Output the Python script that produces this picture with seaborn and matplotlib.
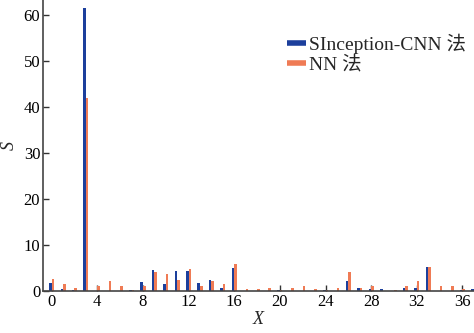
import numpy as np
import pandas as pd
import matplotlib
matplotlib.use("Agg")
import matplotlib.pyplot as plt
import seaborn as sns
from matplotlib.lines import Line2D

# Data
x_vals = list(range(38))
s_sincep = [1.7, 0.4, 0.3, 61.5, 0.1, 0.0, 0.0, 0.2, 1.9, 4.5,
            1.6, 4.4, 4.3, 1.7, 2.5, 0.6, 5.1, 0.0, 0.0, 0.0,
            0.2, 0.0, 0.0, 0.0, 0.2, 0.0, 2.2, 0.6, 0.4, 0.5,
            0.1, 0.6, 0.6, 5.2, 0.1, 0.0, 0.3, 0.4]
s_nn = [2.6, 1.45, 0.65, 42.0, 1.1, 2.2, 1.1, 0.3, 1.2, 4.1,
        3.6, 2.4, 4.8, 1.1, 2.2, 1.5, 5.8, 0.36, 0.5, 0.6,
        0.2, 0.7, 1.0, 0.35, 0.3, 0.6, 4.2, 0.6, 1.2, 0.0,
        0.3, 1.0, 2.2, 5.2, 1.0, 1.0, 0.5, 0.0]
series_names = ["SInception-CNN 法", "NN 法"]
x_ticks = [0, 4, 8, 12, 16, 20, 24, 28, 32, 36]
y_ticks = [0, 10, 20, 30, 40, 50, 60]

colors = ["#1c3f9c", "#ef7b55"]

df = pd.DataFrame({
    "X": x_vals * 2,
    "S": s_sincep + s_nn,
    "method": [series_names[0]] * len(x_vals) + [series_names[1]] * len(x_vals),
})

sns.set_style("ticks")
plt.rcParams["font.family"] = ["Liberation Serif", "Noto Sans CJK SC"]

fig = plt.figure(figsize=(4.74, 3.33), dpi=100)
ax = fig.add_axes([0.0907, 0.126, 0.909, 0.874])

sns.barplot(data=df, x="X", y="S", hue="method", palette=colors,
            native_scale=True, width=0.45, gap=0, dodge=True,
            saturation=1, errorbar=None, ax=ax, legend=False)
for p in ax.patches:
    p.set_linewidth(0)

ax.set_xlim(-0.76, 37.0)
ax.set_ylim(0, 63.3)
ax.set_xticks(x_ticks)
ax.set_yticks(y_ticks)
ax.tick_params(direction="in", length=4, width=1, colors="#333333",
               labelsize=12, labelcolor="black", pad=2)
for side in ["top", "right"]:
    ax.spines[side].set_visible(False)
for side in ["left", "bottom"]:
    ax.spines[side].set_color("#444444")
    ax.spines[side].set_linewidth(1.2)

ax.set_xlabel("X", fontstyle="italic", fontsize=13, labelpad=1)
ax.set_ylabel("S", fontstyle="italic", fontsize=13, labelpad=4)

handles = [Line2D([0], [0], color=c, lw=4, solid_capstyle="butt") for c in colors]
leg = ax.legend(handles, series_names, loc="upper left",
                bbox_to_anchor=(0.566, 0.885), frameon=False, fontsize=14,
                handlelength=1.0, handletextpad=0.15, labelspacing=0.1,
                borderaxespad=0, borderpad=0)

fig.savefig("out.png", dpi=100)
